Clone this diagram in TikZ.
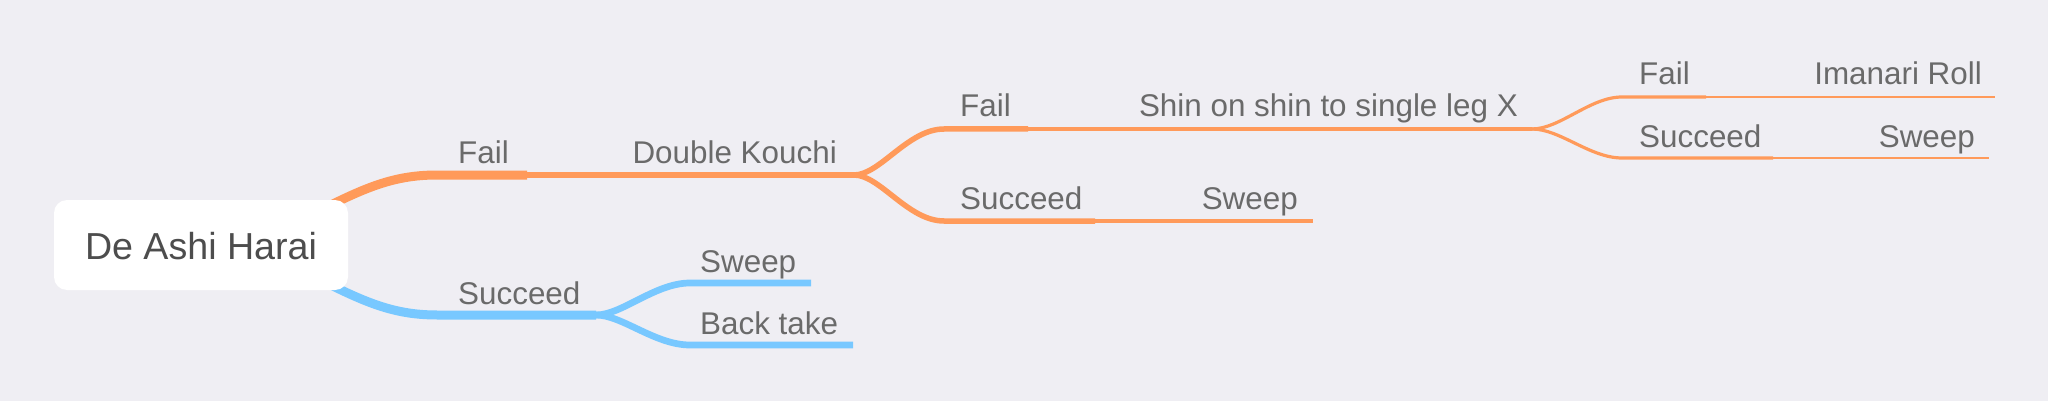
\documentclass[tikz,border=0pt]{standalone}
\usepackage{fontspec}
\setmainfont{Liberation Sans}
\definecolor{bg}{HTML}{EFEEF3}
\definecolor{org}{HTML}{FF9A5A}
\definecolor{blu}{HTML}{78C8FF}
\definecolor{txt}{HTML}{6A6A6A}
\definecolor{roottxt}{HTML}{4D4D4D}
\begin{document}
\begin{tikzpicture}[x=1pt,y=-1pt,
  lbl/.style={text=txt, font=\fontsize{31.4}{36}\selectfont, inner sep=0pt},
  rootbox/.style={fill=white, rounded corners=13pt, minimum width=294pt, minimum height=90pt, inner sep=0pt},
  rootlbl/.style={text=roottxt, font=\fontsize{37.6}{42}\selectfont, inner sep=0pt},
  branch/.style={line join=round},
  dA/.style={branch, line width=9pt},
  dB/.style={branch, line width=6.7pt},
  dC/.style={branch, line width=5.5pt},
  dD/.style={branch, line width=4.3pt},
  dE/.style={branch, line width=3.2pt},
  dF/.style={branch, line width=2pt}]
\fill[bg] (0,0) rectangle (2048,401);
\useasboundingbox (0,0) rectangle (2048,401);
% points
\coordinate (rO) at (305,218);
\coordinate (rB) at (305,272);
\coordinate (f1s) at (437,175);
\coordinate (f1e) at (527,175);
\coordinate (dke) at (854,175);
\coordinate (f3s) at (944,129);
\coordinate (f3e) at (1028,129);
\coordinate (shine) at (1532,129);
\coordinate (s3s) at (944,221);
\coordinate (s3e) at (1095,221);
\coordinate (sw3e) at (1313,221);
\coordinate (f5s) at (1622,97);
\coordinate (f5e) at (1706,97);
\coordinate (ime) at (1995,97);
\coordinate (s5s) at (1622,158);
\coordinate (s5e) at (1773,158);
\coordinate (sw5e) at (1989,158);
\coordinate (b1s) at (437,315);
\coordinate (b1e) at (596,315);
\coordinate (bss) at (690,283);
\coordinate (bse) at (811,283);
\coordinate (bts) at (690,345);
\coordinate (bte) at (853,345);
% orange branch
\draw[org, dA] (rO) .. controls (360,190) and (390,175) .. (f1s) -- (f1e);
\draw[org, dB] (f1e) -- (dke);
\draw[org, dC] (dke) .. controls (880,175) and (908,129) .. (f3s) -- (f3e);
\draw[org, dD] (f3e) -- (shine);
\draw[org, dC] (dke) .. controls (880,175) and (908,221) .. (s3s) -- (s3e);
\draw[org, dD] (s3e) -- (sw3e);
\draw[org, dE] (shine) .. controls (1560,129) and (1590,97) .. (f5s) -- (f5e);
\draw[org, dF] (f5e) -- (ime);
\draw[org, dE] (shine) .. controls (1560,129) and (1590,158) .. (s5s) -- (s5e);
\draw[org, dF] (s5e) -- (sw5e);
% blue branch
\draw[blu, dA] (rB) .. controls (360,300) and (390,315) .. (b1s) -- (b1e);
\draw[blu, dB] (b1e) .. controls (622,315) and (655,283) .. (bss) -- (bse);
\draw[blu, dB] (b1e) .. controls (622,315) and (655,345) .. (bts) -- (bte);
% root
\node[rootbox] (root) at (201,245) {};
\node[rootlbl, anchor=base] (roottext) at (201,259) {De Ashi Harai};
% labels
\node[lbl, anchor=base west] (fail1) at (458,164) {Fail};
\node[lbl, anchor=base east] (dk) at (837,164) {Double Kouchi};
\node[lbl, anchor=base west] (fail3) at (960,117) {Fail};
\node[lbl, anchor=base east] (shin) at (1518,117) {Shin on shin to single leg X};
\node[lbl, anchor=base west] (succ3) at (960,209) {Succeed};
\node[lbl, anchor=base east] (sweep3) at (1298,209) {Sweep};
\node[lbl, anchor=base west] (fail5) at (1639,85) {Fail};
\node[lbl, anchor=base east] (iman) at (1982,85) {Imanari Roll};
\node[lbl, anchor=base west] (succ5) at (1639,147) {Succeed};
\node[lbl, anchor=base east] (sweep5) at (1975,147) {Sweep};
\node[lbl, anchor=base west] (succB) at (458,304) {Succeed};
\node[lbl, anchor=base west] (sweepB) at (700,272) {Sweep};
\node[lbl, anchor=base west] (backt) at (700,334) {Back take};
\end{tikzpicture}
\end{document}
